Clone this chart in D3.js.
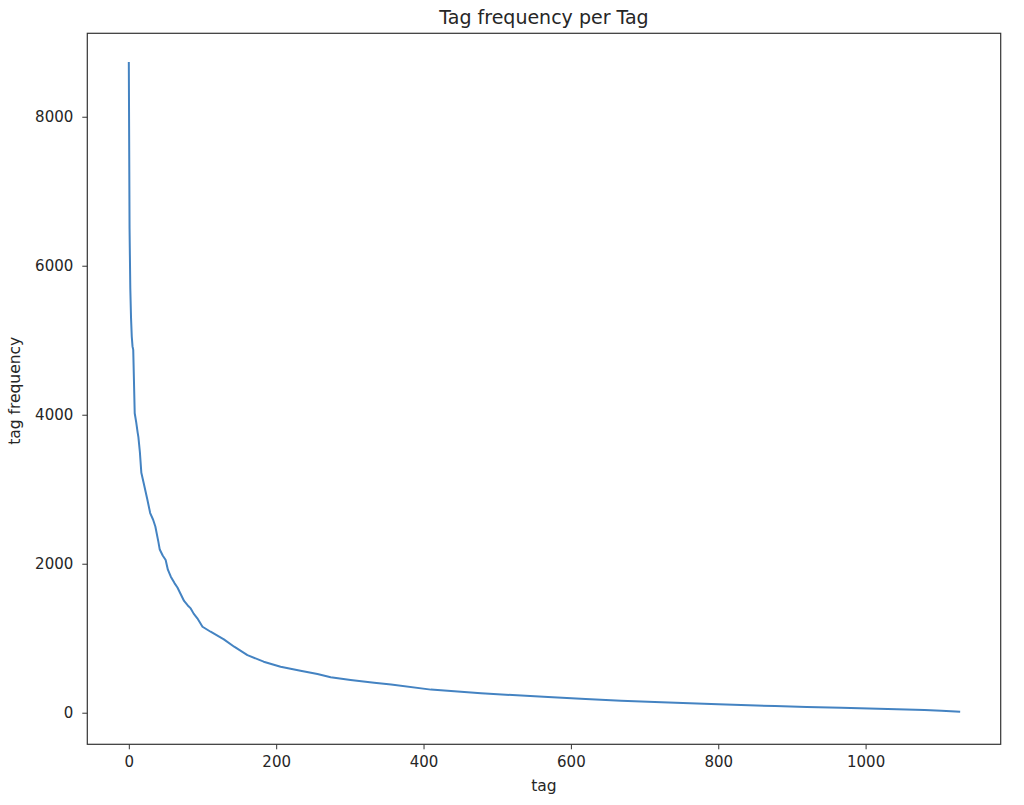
<!DOCTYPE html>
<html>
<head>
<meta charset="utf-8">
<script src="https://cdn.jsdelivr.net/npm/d3@7/dist/d3.min.js"></script>
<style>
  html, body { margin: 0; padding: 0; background: #fff; }
  svg { display: block; font-family: "DejaVu Sans", sans-serif; }
</style>
</head>
<body>
<svg id="chart" width="1024" height="805"></svg>
<script>
// Data
const tags = [0,1,2,3,4,5,6,8,10,12,13,15,17,20,25,29,33,36,40,42,46,50,53,57,62,66,70,75,80,84,88,93,100,111,129,143,161,183,206,233,256,274,301,333,356,410,478,569,620,668,723,800,877,920,967,1030,1080,1103,1127];
const frequencies = [8720,6500,5700,5300,5050,4920,4870,4020,3900,3760,3700,3500,3220,3090,2870,2680,2590,2500,2300,2190,2110,2050,1920,1826,1740,1680,1600,1500,1440,1400,1330,1267,1154,1087,985,886,774,685,617,564,519,475,439,403,380,310,260,210,185,161,140,112,90,78,67,50,35,27,13];
const xTicks = [0,200,400,600,800,1000];
const yTicks = [0,2000,4000,6000,8000];
const titleText = "Tag frequency per Tag";
const xLabel = "tag";
const yLabel = "tag frequency";

const svg = d3.select("#chart");
const mLeft = 87.3, mRight = 1000.7, mTop = 33.3, mBottom = 744.3;

const x = d3.scaleLinear().domain([-56.35, 1183.35]).range([mLeft, mRight]);
const y = d3.scaleLinear().domain([-424, 9120]).range([mBottom, mTop]);

const textColor = "#262626";
const axisColor = "#333";

// line
const points = tags.map((t, i) => [t, frequencies[i]]);
svg.append("path")
  .datum(points)
  .attr("fill", "none")
  .attr("stroke", "#4483c2")
  .attr("stroke-width", 2)
  .attr("stroke-linejoin", "round")
  .attr("stroke-linecap", "square")
  .attr("d", d3.line().x(d => x(d[0])).y(d => y(d[1])));

// axes
const xAxis = d3.axisBottom(x).tickValues(xTicks).tickSize(5).tickPadding(7.5).tickFormat(d3.format("d"));
const yAxis = d3.axisLeft(y).tickValues(yTicks).tickSize(5).tickPadding(9).tickFormat(d3.format("d"));

const gx = svg.append("g").attr("transform", `translate(0,${mBottom})`).call(xAxis);
const gy = svg.append("g").attr("transform", `translate(${mLeft},0)`).call(yAxis);
[gx, gy].forEach(g => {
  g.select(".domain").remove();
  g.selectAll(".tick line").attr("stroke", axisColor).attr("stroke-width", 1);
  g.selectAll(".tick text").attr("fill", textColor).style("font-size", "15px").style("font-family", "DejaVu Sans");
});

// frame
svg.append("rect")
  .attr("x", mLeft).attr("y", mTop)
  .attr("width", mRight - mLeft).attr("height", mBottom - mTop)
  .attr("fill", "none").attr("stroke", axisColor).attr("stroke-width", 1.2);

// title and labels
svg.append("text")
  .attr("x", (mLeft + mRight) / 2).attr("y", 24)
  .attr("text-anchor", "middle")
  .attr("fill", textColor)
  .style("font-size", "19px")
  .text(titleText);

svg.append("text")
  .attr("x", (mLeft + mRight) / 2).attr("y", 791)
  .attr("text-anchor", "middle")
  .attr("fill", textColor)
  .style("font-size", "15.5px")
  .text(xLabel);

svg.append("text")
  .attr("transform", `translate(20,${(mTop + mBottom) / 2 + 2}) rotate(-90)`)
  .attr("text-anchor", "middle")
  .attr("fill", textColor)
  .style("font-size", "15.5px")
  .text(yLabel);
</script>
</body>
</html>
